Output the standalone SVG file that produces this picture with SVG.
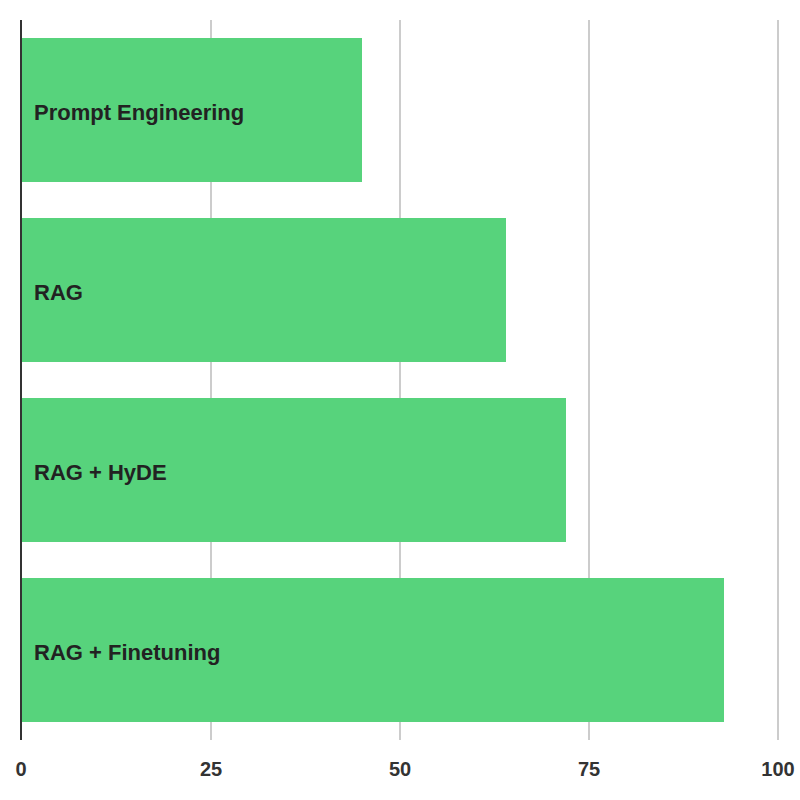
<svg xmlns="http://www.w3.org/2000/svg" width="800" height="800" viewBox="0 0 800 800">
<style>
.grid{stroke:#cccccc;stroke-width:2}
.bar{fill:#57d37c}
.lbl{font-family:"Liberation Sans",Arial,sans-serif;font-weight:bold;font-size:22px;fill:#222}
.tick{font-family:"Liberation Sans",Arial,sans-serif;font-weight:bold;font-size:20px;fill:#333;text-anchor:middle}
</style>
<rect width="800" height="800" fill="#fff"/>
<g id="grid">
<line class="grid" x1="211" y1="20" x2="211" y2="740"/>
<line class="grid" x1="400" y1="20" x2="400" y2="740"/>
<line class="grid" x1="589" y1="20" x2="589" y2="740"/>
<line class="grid" x1="778" y1="20" x2="778" y2="740"/>
</g>
<g id="bar1"><rect class="bar" x="21" y="38" width="341" height="144"/><text class="lbl" x="34" y="120">Prompt Engineering</text></g>
<g id="bar2"><rect class="bar" x="21" y="218" width="485" height="144"/><text class="lbl" x="34" y="300">RAG</text></g>
<g id="bar3"><rect class="bar" x="21" y="398" width="545" height="144"/><text class="lbl" x="34" y="480">RAG + HyDE</text></g>
<g id="bar4"><rect class="bar" x="21" y="578" width="703" height="144"/><text class="lbl" x="34" y="660">RAG + Finetuning</text></g>
<g id="axis">
<line x1="21" y1="20" x2="21" y2="740" stroke="#333" stroke-width="2"/>
<text class="tick" x="21" y="776">0</text>
<text class="tick" x="211" y="776">25</text>
<text class="tick" x="400" y="776">50</text>
<text class="tick" x="589" y="776">75</text>
<text class="tick" x="778" y="776">100</text>
</g>
</svg>
